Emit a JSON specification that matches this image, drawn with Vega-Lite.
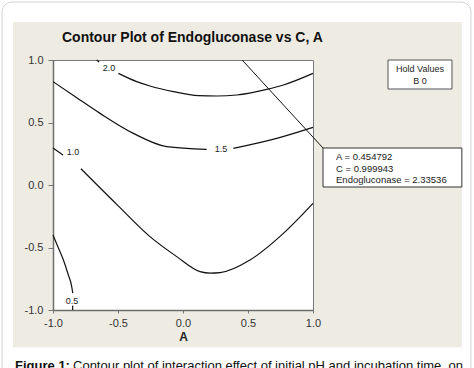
{
  "$schema": "https://vega.github.io/schema/vega-lite/v6.json",
  "width": 260,
  "height": 250,
  "autosize": {"type": "none"},
  "padding": {"left": 53, "top": 60, "right": 161, "bottom": 58},
  "background": "#eeebe3",
  "config": {
    "view": {"stroke": "#7a7a7a", "strokeWidth": 1, "fill": "white"},
    "axis": {"grid": false, "zindex": 1, "tickCount": 5, "format": ".1f", "labelExpr": "replace(datum.label, '−', '-')", "labelFont": "Liberation Sans", "labelFontSize": 11, "labelColor": "#333333", "tickColor": "#777777", "domainColor": "#6e6e6e", "domainWidth": 1.5, "labelFlush": false, "labelOverlap": false, "titleFont": "Liberation Sans", "titleFontSize": 12, "titleFontWeight": "bold", "titleColor": "#222222"},
    "axisX": {"tickSize": 3, "labelPadding": 4, "titlePadding": 3},
    "axisY": {"tickSize": 5, "labelPadding": 5}
  },
  "datasets": {
    "contours": [
      {"level": 2.0, "seg": "2a", "A": -0.664, "C": 1.0},
      {"level": 2.0, "seg": "2a", "A": -0.645, "C": 0.984},
      {"level": 2.0, "seg": "2b", "A": -0.497, "C": 0.893},
      {"level": 2.0, "seg": "2b", "A": -0.356, "C": 0.827},
      {"level": 2.0, "seg": "2b", "A": -0.254, "C": 0.792},
      {"level": 2.0, "seg": "2b", "A": -0.074, "C": 0.747},
      {"level": 2.0, "seg": "2b", "A": 0.118, "C": 0.715},
      {"level": 2.0, "seg": "2b", "A": 0.26, "C": 0.712},
      {"level": 2.0, "seg": "2b", "A": 0.413, "C": 0.72},
      {"level": 2.0, "seg": "2b", "A": 0.644, "C": 0.765},
      {"level": 2.0, "seg": "2b", "A": 0.772, "C": 0.8},
      {"level": 2.0, "seg": "2b", "A": 1.0, "C": 0.893},
      {"level": 1.5, "seg": "15a", "A": -1.0, "C": 0.827},
      {"level": 1.5, "seg": "15a", "A": -0.82, "C": 0.7},
      {"level": 1.5, "seg": "15a", "A": -0.638, "C": 0.573},
      {"level": 1.5, "seg": "15a", "A": -0.382, "C": 0.413},
      {"level": 1.5, "seg": "15a", "A": -0.126, "C": 0.307},
      {"level": 1.5, "seg": "15a", "A": 0.182, "C": 0.285},
      {"level": 1.5, "seg": "15b", "A": 0.387, "C": 0.293},
      {"level": 1.5, "seg": "15b", "A": 0.721, "C": 0.373},
      {"level": 1.5, "seg": "15b", "A": 1.0, "C": 0.461},
      {"level": 1.0, "seg": "1a", "A": -1.0, "C": 0.296},
      {"level": 1.0, "seg": "1a", "A": -0.923, "C": 0.24},
      {"level": 1.0, "seg": "1b", "A": -0.785, "C": 0.13},
      {"level": 1.0, "seg": "1b", "A": -0.5, "C": -0.165},
      {"level": 1.0, "seg": "1b", "A": -0.254, "C": -0.413},
      {"level": 1.0, "seg": "1b", "A": -0.048, "C": -0.573},
      {"level": 1.0, "seg": "1b", "A": 0.131, "C": -0.693},
      {"level": 1.0, "seg": "1b", "A": 0.21, "C": -0.705},
      {"level": 1.0, "seg": "1b", "A": 0.285, "C": -0.701},
      {"level": 1.0, "seg": "1b", "A": 0.515, "C": -0.6},
      {"level": 1.0, "seg": "1b", "A": 0.772, "C": -0.387},
      {"level": 1.0, "seg": "1b", "A": 1.0, "C": -0.147},
      {"level": 0.5, "seg": "05a", "A": -1.0, "C": -0.4},
      {"level": 0.5, "seg": "05a", "A": -0.96, "C": -0.5},
      {"level": 0.5, "seg": "05a", "A": -0.92, "C": -0.6},
      {"level": 0.5, "seg": "05a", "A": -0.885, "C": -0.71},
      {"level": 0.5, "seg": "05a", "A": -0.856, "C": -0.813},
      {"level": 0.5, "seg": "05a", "A": -0.848, "C": -0.865},
      {"level": 0.5, "seg": "05b", "A": -0.849, "C": -0.965},
      {"level": 0.5, "seg": "05b", "A": -0.8489, "C": -1.0}
    ],
    "labels": [
      {"label": "2.0", "A": -0.569, "C": 0.936},
      {"label": "1.5", "A": 0.292, "C": 0.288},
      {"label": "1.0", "A": -0.846, "C": 0.264},
      {"label": "0.5", "A": -0.854, "C": -0.928}
    ],
    "crosshair": [
      {"A": 0.454792, "C": 0.999943, "Endogluconase": 2.33536}
    ]
  },
  "layer": [
    {
      "data": {"name": "contours"},
      "mark": {"type": "line", "stroke": "#111111", "strokeWidth": 1.2, "interpolate": "monotone"},
      "encoding": {
        "x": {"field": "A", "type": "quantitative", "title": "A", "scale": {"domain": [-1, 1], "nice": false, "zero": false}},
        "y": {"field": "C", "type": "quantitative", "title": null, "scale": {"domain": [-1, 1], "nice": false, "zero": false}},
        "detail": {"field": "seg"}
      }
    },
    {
      "data": {"values": [{}]},
      "mark": {"type": "rect", "fill": "white"},
      "encoding": {
        "x": {"datum": -1.6, "type": "quantitative"},
        "x2": {"datum": 2.4},
        "y": {"datum": 1.6, "type": "quantitative"},
        "y2": {"datum": 1.305}
      }
    },
    {
      "data": {"values": [{}]},
      "mark": {"type": "rect", "fill": "white"},
      "encoding": {
        "x": {"datum": -1.6, "type": "quantitative"},
        "x2": {"datum": 2.4},
        "y": {"datum": -1.298, "type": "quantitative"},
        "y2": {"datum": -1.7}
      }
    },
    {
      "data": {"values": [{}]},
      "mark": {"type": "rect", "fill": "white"},
      "encoding": {
        "x": {"datum": -1.6, "type": "quantitative"},
        "x2": {"datum": -1.3077},
        "y": {"datum": 1.6, "type": "quantitative"},
        "y2": {"datum": -1.7}
      }
    },
    {
      "data": {"values": [{}]},
      "mark": {"type": "rect", "fill": "white"},
      "encoding": {
        "x": {"datum": 2.145, "type": "quantitative"},
        "x2": {"datum": 2.4},
        "y": {"datum": 1.6, "type": "quantitative"},
        "y2": {"datum": -1.7}
      }
    },
    {
      "data": {"values": [{}]},
      "mark": {"type": "rect", "filled": false, "stroke": "#d2d2d2", "strokeWidth": 1, "cornerRadius": 10},
      "encoding": {
        "x": {"datum": -1.392, "type": "quantitative"},
        "x2": {"datum": 2.215},
        "y": {"datum": 1.464, "type": "quantitative"},
        "y2": {"datum": -1.7}
      }
    },
    {
      "data": {"name": "labels"},
      "mark": {"type": "text", "font": "Liberation Sans", "fontSize": 9, "fill": "#222222", "align": "center", "baseline": "middle"},
      "encoding": {
        "x": {"field": "A", "type": "quantitative", "title": "A"},
        "y": {"field": "C", "type": "quantitative", "title": null},
        "text": {"field": "label"}
      }
    },
    {
      "data": {"name": "crosshair"},
      "mark": {"type": "rule", "stroke": "#111111", "strokeWidth": 1},
      "encoding": {
        "x": {"field": "A", "type": "quantitative", "title": "A"},
        "y": {"field": "C", "type": "quantitative", "title": null},
        "x2": {"datum": 1.077},
        "y2": {"datum": 0.296}
      }
    },
    {
      "data": {"values": [{}]},
      "mark": {"type": "rect", "fill": "white", "stroke": "#333333", "strokeWidth": 1},
      "encoding": {
        "x": {"datum": 1.077, "type": "quantitative"},
        "x2": {"datum": 2.145},
        "y": {"datum": 0.296, "type": "quantitative"},
        "y2": {"datum": -0.016}
      }
    },
    {
      "data": {"values": [{}]},
      "mark": {"type": "text", "text": ["A = 0.454792", "C = 0.999943", "Endogluconase = 2.33536"], "font": "Liberation Sans", "fontSize": 9.5, "lineHeight": 11.5, "fill": "#222222", "align": "left", "baseline": "middle"},
      "encoding": {
        "x": {"datum": 1.177, "type": "quantitative"},
        "y": {"datum": 0.224, "type": "quantitative"}
      }
    },
    {
      "data": {"values": [{}]},
      "mark": {"type": "rect", "fill": "white", "stroke": "#555555", "strokeWidth": 1},
      "encoding": {
        "x": {"datum": 1.577, "type": "quantitative"},
        "x2": {"datum": 2.069},
        "y": {"datum": 1.0, "type": "quantitative"},
        "y2": {"datum": 0.768}
      }
    },
    {
      "data": {"values": [{}]},
      "mark": {"type": "text", "text": ["Hold Values", "B   0"], "font": "Liberation Sans", "fontSize": 9, "lineHeight": 12, "fill": "#222222", "align": "center", "baseline": "middle"},
      "encoding": {
        "x": {"datum": 1.823, "type": "quantitative"},
        "y": {"datum": 0.928, "type": "quantitative"}
      }
    },
    {
      "data": {"values": [{}]},
      "mark": {"type": "text", "text": "Contour Plot of Endogluconase vs C, A", "font": "Liberation Sans", "fontSize": 14, "fontWeight": "bold", "fill": "#111111", "align": "left", "baseline": "alphabetic"},
      "encoding": {
        "x": {"datum": -0.931, "type": "quantitative"},
        "y": {"datum": 1.144, "type": "quantitative"}
      }
    },
    {
      "data": {"values": [{}]},
      "mark": {"type": "text", "text": "Figure 1:", "font": "Liberation Sans", "fontSize": 13, "fontWeight": "bold", "fill": "#111111", "align": "left", "baseline": "alphabetic"},
      "encoding": {
        "x": {"datum": -1.292, "type": "quantitative"},
        "y": {"datum": -1.48, "type": "quantitative"}
      }
    },
    {
      "data": {"values": [{}]},
      "mark": {"type": "text", "text": "Contour plot of interaction effect of initial pH and incubation time, on", "font": "Liberation Sans", "fontSize": 13, "fill": "#111111", "align": "left", "baseline": "alphabetic"},
      "encoding": {
        "x": {"datum": -0.846, "type": "quantitative"},
        "y": {"datum": -1.48, "type": "quantitative"}
      }
    }
  ]
}
